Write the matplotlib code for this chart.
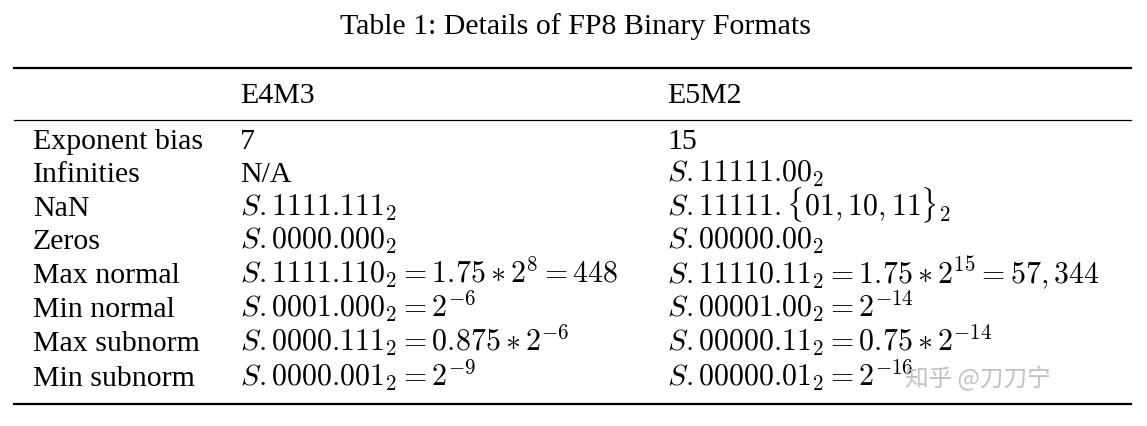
import matplotlib
matplotlib.use("Agg")
import matplotlib.pyplot as plt

plt.rcParams['font.family'] = ['Liberation Serif', 'DejaVu Serif']
plt.rcParams['mathtext.fontset'] = 'cm'

title = "Table 1: Details of FP8 Binary Formats"
headers = ["", "E4M3", "E5M2"]
row_labels = ["Exponent bias", "Infinities", "NaN", "Zeros", "Max normal",
              "Min normal", "Max subnorm", "Min subnorm"]
e4m3 = ["7", "N/A", r"$S.1111.111_2$", r"$S.0000.000_2$",
        r"$S.1111.110_2 = 1.75 * 2^8 = 448$", r"$S.0001.000_2 = 2^{-6}$",
        r"$S.0000.111_2 = 0.875 * 2^{-6}$", r"$S.0000.001_2 = 2^{-9}$"]
e5m2 = ["15", r"$S.11111.00_2$", r"$S.11111.\{01,10,11\}_2$", r"$S.00000.00_2$",
        r"$S.11110.11_2 = 1.75 * 2^{15} = 57,344$", r"$S.00001.00_2 = 2^{-14}$",
        r"$S.00000.11_2 = 0.75 * 2^{-14}$", r"$S.00000.01_2 = 2^{-16}$"]

W, H = 1147, 426
fig = plt.figure(figsize=(W/100, H/100), dpi=100)
ax = fig.add_axes([0, 0, 1, 1])
ax.set_xlim(0, W); ax.set_ylim(H, 0); ax.axis('off')

fs = 21.5
ax.text(575, 34, title, ha='center', va='baseline', fontsize=fs)
ax.plot([14, 1131], [68, 68], color='black', lw=1.6)
ax.plot([14, 1131], [120, 120], color='black', lw=0.9)
ax.plot([14, 1131], [404, 404], color='black', lw=1.6)
cols = [33, 240, 667]
for x, h in zip(cols, headers):
    ax.text(x, 103, h, ha='left', va='baseline', fontsize=fs)
ys = [149, 182, 216, 249, 283, 317, 351, 386]
for y, a, b, c in zip(ys, row_labels, e4m3, e5m2):
    for x, t in zip(cols, (a, b, c)):
        ax.text(x, y, t, ha='left', va='baseline', fontsize=fs)
ax.text(905, 379, "知乎 @刀刀宁", ha='left', va='center', fontsize=17,
        family=['Noto Sans CJK SC', 'DejaVu Sans'], color='#bbbbbb', alpha=0.9)
fig.savefig("out.png", dpi=100)
